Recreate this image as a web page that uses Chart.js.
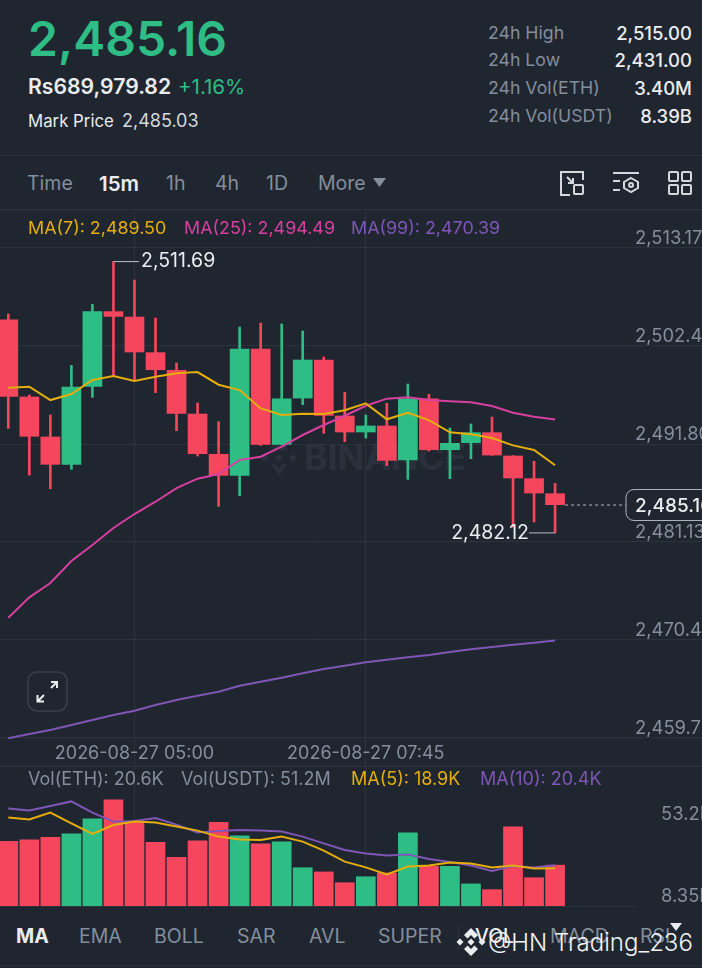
<!DOCTYPE html>
<html>
<head>
<meta charset="utf-8">
<script src="https://cdn.jsdelivr.net/npm/chart.js@4"></script>
<style>
html,body{margin:0;padding:0;background:#1f2630;}
#page{position:relative;width:702px;height:968px;overflow:hidden;background:#1f2630;font-family:Inter,sans-serif;}
.t{position:absolute;white-space:nowrap;transform:translateY(-50%);line-height:1;}
.g{color:#848e9c;}
.hl{position:absolute;left:0;width:702px;height:1px;background:#2c333f;}
canvas{position:absolute;left:0;display:block;}
svg{position:absolute;}
</style>
</head>
<body>
<div id="page">
  <div class="t" style="left:28px;top:39px;font-size:48px;font-weight:600;color:#2ebd85;">2,485.16</div>
  <div class="t" style="left:28px;top:87px;font-size:21.2px;font-weight:600;color:#eaecef;">Rs689,979.82</div>
  <div class="t" style="left:178px;top:87px;font-size:20.5px;color:#2ebd85;">+1.16%</div>
  <div class="t" style="left:28px;top:121px;font-size:16.8px;color:#eaecef;">Mark Price</div>
  <div class="t" style="left:122px;top:121px;font-size:18px;color:#d5d9de;">2,485.03</div>

  <div class="t g" style="left:488px;top:33px;font-size:17.7px;">24h High</div>
  <div class="t g" style="left:488px;top:60px;font-size:17.7px;">24h Low</div>
  <div class="t g" style="left:488px;top:88px;font-size:17.7px;">24h Vol(ETH)</div>
  <div class="t g" style="left:488px;top:116px;font-size:17.7px;">24h Vol(USDT)</div>
  <div class="t" style="right:10px;top:33px;font-size:18.5px;font-weight:500;color:#eaecef;">2,515.00</div>
  <div class="t" style="right:10px;top:60px;font-size:18.5px;font-weight:500;color:#eaecef;">2,431.00</div>
  <div class="t" style="right:10px;top:88px;font-size:18.5px;font-weight:500;color:#eaecef;">3.40M</div>
  <div class="t" style="right:10px;top:116px;font-size:18.5px;font-weight:500;color:#eaecef;">8.39B</div>

  <div class="hl" style="top:155px;"></div>
  <div class="t g" style="left:27px;top:184px;font-size:19.5px;">Time</div>
  <div class="t" style="left:99px;top:184px;font-size:20.5px;font-weight:600;color:#eaecef;">15m</div>
  <div class="t g" style="left:166px;top:184px;font-size:19.5px;">1h</div>
  <div class="t g" style="left:215px;top:184px;font-size:19.5px;">4h</div>
  <div class="t g" style="left:266px;top:184px;font-size:19.5px;">1D</div>
  <div class="t g" style="left:318px;top:184px;font-size:19.5px;">More</div>
  <svg style="left:372px;top:177px" width="15" height="11"><path d="M1 1H14L7.5 10Z" fill="#848e9c"/></svg>
  <svg style="left:558px;top:170px" width="30" height="27" fill="none" stroke="#d5d9de" stroke-width="2">
    <path d="M3 20V2H25V10M3 20V25H12M9 7L15 13M15 8V13H10"/><rect x="16" y="15" width="9" height="9" rx="1"/>
  </svg>
  <svg style="left:612px;top:170px" width="30" height="27" fill="none" stroke="#d5d9de" stroke-width="2">
    <path d="M1 3H27M1 11H8M1 20H8M19 8L26 12V18L19 22L12 18V12Z"/><circle cx="19" cy="15" r="2"/>
  </svg>
  <svg style="left:667px;top:170px" width="27" height="27" fill="none" stroke="#d5d9de" stroke-width="2">
    <rect x="2" y="2" width="9" height="9" rx="1"/><rect x="15" y="2" width="9" height="9" rx="1"/>
    <rect x="2" y="15" width="9" height="9" rx="1"/><rect x="15" y="15" width="9" height="9" rx="1"/>
  </svg>
  <div class="hl" style="top:209px;"></div>

  <svg style="left:260px;top:438px" width="40" height="40" fill="#2a313c">
    <path d="M19 2L27 10L23 14L19 10L15 14L11 10ZM5 16L9 20L5 24L1 20ZM33 16L37 20L33 24L29 20ZM19 16L23 20L19 24L15 20ZM11 26L15 26L19 30L23 26L27 26L19 38Z"/>
  </svg>
  <div class="t" style="left:304px;top:458px;font-size:35.5px;font-weight:700;color:#2a313c;">BINANCE</div>

  <canvas id="priceChart" width="720" height="556" style="top:210px;"></canvas>
  <canvas id="volChart" width="720" height="141" style="top:766px;"></canvas>

  <div class="t" style="left:28px;top:228px;font-size:17.9px;color:#e5ae0c;">MA(7): 2,489.50</div>
  <div class="t" style="left:184px;top:228px;font-size:17.9px;color:#d6409f;">MA(25): 2,494.49</div>
  <div class="t" style="left:351px;top:228px;font-size:17.9px;color:#7f56b5;">MA(99): 2,470.39</div>

  <svg style="left:27px;top:671px" width="41" height="41" fill="none">
    <rect x="1" y="1" width="39" height="39" rx="9" stroke="#383f4b" stroke-width="1.5"/>
    <path d="M24 17L29 12M24 11H30V17M17 24L11 30M10.5 24V30.5H17" stroke="#eaecef" stroke-width="2"/>
  </svg>

  <div class="hl" style="top:766px;"></div>
  <div class="t g" style="left:28px;top:779px;font-size:18px;">Vol(ETH): 20.6K</div>
  <div class="t g" style="left:181px;top:779px;font-size:18px;">Vol(USDT): 51.2M</div>
  <div class="t" style="left:351px;top:779px;font-size:18px;color:#e5ae0c;">MA(5): 18.9K</div>
  <div class="t" style="left:480px;top:779px;font-size:18px;color:#7f56b5;">MA(10): 20.4K</div>

  <div class="t" style="left:16px;top:937px;font-size:19.5px;font-weight:700;color:#eaecef;">MA</div>
  <div class="t g" style="left:79px;top:937px;font-size:19.5px;">EMA</div>
  <div class="t g" style="left:154px;top:937px;font-size:19.5px;">BOLL</div>
  <div class="t g" style="left:237px;top:937px;font-size:19.5px;">SAR</div>
  <div class="t g" style="left:309px;top:937px;font-size:19.5px;">AVL</div>
  <div class="t g" style="left:378px;top:937px;font-size:19.5px;">SUPER</div>
  <div class="hl" style="left:458px;top:925px;width:1px;height:24px;"></div>
  <div class="t" style="left:475px;top:937px;font-size:19.5px;font-weight:500;color:#eaecef;">VOL</div>
  <div class="t g" style="left:550px;top:937px;font-size:19.5px;">MACD</div>
  <div class="t g" style="left:640px;top:937px;font-size:19.5px;">RSI</div>
  <svg style="left:456px;top:927px" width="30" height="30" fill="#eaecef">
    <path d="M15 1L22 8L18.5 11.5L15 8L11.5 11.5L8 8ZM4 11.5L7.5 15L4 18.5L0.5 15ZM26 11.5L29.5 15L26 18.5L22.5 15ZM15 11.5L18.5 15L15 18.5L11.5 15ZM8 22L11.5 18.5L15 22L18.5 18.5L22 22L15 29Z"/>
  </svg>
  <div class="t" style="left:488px;top:943px;font-size:24px;font-weight:300;color:#f2f3f5;">@HN Trading_236</div>
  <svg style="left:668px;top:922px" width="18" height="12"><path d="M2 1H14L8 9Z" fill="#eaecef"/></svg>
  <div class="hl" style="top:965px;"></div>
</div>

<script>
const timeTickIndexes = [6, 17];
const timeTickLabels = ["2026-08-27 05:00", "2026-08-27 07:45"];
const priceTicks = [2513.17, 2502.49, 2491.80, 2481.13, 2470.45, 2459.77];
const volumeTicks = [53.2, 8.35];
const volumeTickLabels = ["53.2K", "8.35K"];

const opens  = [2505.39,2496.97,2492.61,2489.56,2498.06,2506.27,2505.68,2501.80,2499.87,2495.11,2490.72,2488.36,2502.20,2491.74,2496.78,2501.00,2494.90,2493.08,2493.81,2490.03,2496.78,2491.15,2491.92,2493.08,2490.54,2488.07,2486.43];
const closes = [2496.97,2492.61,2489.56,2498.06,2506.27,2505.68,2501.80,2499.87,2495.11,2490.72,2488.36,2502.20,2491.74,2496.78,2501.00,2494.90,2493.08,2493.81,2489.99,2496.78,2491.15,2491.92,2493.08,2490.57,2488.07,2486.43,2485.16];
const highs  = [2505.98,2497.15,2494.97,2500.38,2507.03,2511.69,2509.68,2505.54,2500.64,2496.28,2494.24,2504.56,2504.99,2504.89,2504.12,2501.29,2497.44,2494.97,2496.24,2498.35,2497.22,2493.55,2493.99,2494.75,2490.54,2489.92,2487.52];
const lows   = [2493.52,2488.43,2486.94,2489.05,2496.89,2499.22,2498.78,2497.40,2493.26,2490.50,2485.01,2486.18,2491.66,2491.74,2496.09,2492.97,2492.06,2492.46,2489.45,2487.96,2491.05,2488.03,2490.21,2490.57,2482.76,2483.31,2482.12];

const ma7  = [2497.95,2498.06,2496.60,2497.26,2498.78,2499.22,2498.67,2499.15,2499.51,2499.65,2498.27,2497.69,2495.69,2494.97,2495.11,2495.08,2495.48,2496.24,2494.50,2495.22,2494.42,2493.08,2492.86,2492.46,2491.66,2491.15,2489.50];
const ma25 = [2472.88,2475.10,2476.66,2479.06,2480.80,2482.66,2484.18,2485.52,2487.01,2488.03,2488.54,2490.07,2490.43,2491.52,2492.79,2493.88,2494.89,2495.98,2496.75,2496.90,2496.61,2496.46,2496.35,2495.95,2495.22,2494.78,2494.49];
const ma99 = [2459.74,2460.21,2460.64,2461.19,2461.73,2462.28,2462.75,2463.37,2463.91,2464.38,2464.82,2465.47,2465.91,2466.34,2466.82,2467.29,2467.65,2468.02,2468.30,2468.56,2468.81,2469.14,2469.44,2469.69,2469.94,2470.16,2470.39];

const volumes = [32.5,33.3,34.5,36.2,43.8,53.2,42.3,32.0,24.5,32.7,42.0,35.3,31.3,32.2,19.3,17.2,11.8,14.8,16.7,36.8,20.0,20.0,11.2,8.35,39.7,14.3,20.6];
const volMa5  = [44.3,43.3,46.7,41.3,36.0,40.5,42.2,41.7,39.7,37.7,34.7,33.3,33.0,34.7,32.2,27.7,22.2,19.3,15.8,19.7,20.2,21.8,21.3,19.3,20.2,18.8,18.9];
const volMa10 = [48.7,47.7,50.0,52.3,46.7,42.2,42.5,44.0,40.7,36.8,37.5,38.0,37.7,37.2,34.7,31.3,28.0,26.3,25.3,25.8,23.5,22.0,20.2,17.5,20.0,19.3,20.4];

const UP = '#2ebd85', DOWN = '#f6465d', GRID = '#2c333f';
const FONT = 'Inter, sans-serif';
const BG = '#1f2630';
const barColors = opens.map((o, i) => closes[i] >= o ? UP : DOWN);
const pts = arr => arr.map((y, x) => ({x, y}));
const fmt = v => v.toLocaleString('en-US', {minimumFractionDigits: 2, maximumFractionDigits: 2});

// x window shared by both panes: candle 0 sits 8.3px from the left, candles 21.03px apart
const xMin = -8.3 / 21.03, xMax = (635 - 8.3) / 21.03;
const xBase = {
  type: 'linear', min: xMin, max: xMax, offset: false,
  afterBuildTicks: s => { s.ticks = timeTickIndexes.map(value => ({value})); },
  border: {display: false},
};

const markers = {
  id: 'markers',
  afterDatasetsDraw(chart) {
    const {ctx, scales: {x, y}} = chart;
    ctx.save();
    ctx.font = '19.5px ' + FONT;
    ctx.textBaseline = 'middle';
    // high
    const hi = Math.max(...highs), hiI = highs.indexOf(hi);
    ctx.strokeStyle = '#b7bdc6'; ctx.lineWidth = 1;
    ctx.beginPath(); ctx.moveTo(x.getPixelForValue(hiI), y.getPixelForValue(hi)); ctx.lineTo(139, y.getPixelForValue(hi)); ctx.stroke();
    ctx.fillStyle = '#eaecef'; ctx.textAlign = 'left';
    ctx.fillText(fmt(hi), 141, y.getPixelForValue(hi));
    // low
    const lo = Math.min(...lows), loI = lows.indexOf(lo);
    ctx.beginPath(); ctx.moveTo(x.getPixelForValue(loI), y.getPixelForValue(lo)); ctx.lineTo(529, y.getPixelForValue(lo)); ctx.stroke();
    ctx.textAlign = 'right';
    ctx.fillText(fmt(lo), 529, y.getPixelForValue(lo));
    // last price
    const last = closes[closes.length - 1], ly = y.getPixelForValue(last);
    ctx.setLineDash([3, 3]);
    ctx.strokeStyle = '#b7bdc6';
    ctx.beginPath(); ctx.moveTo(x.getPixelForValue(closes.length - 1) + 10, ly); ctx.lineTo(626, ly); ctx.stroke();
    ctx.setLineDash([]);
    ctx.beginPath(); ctx.roundRect(626, ly - 15.5, 110, 31, 8);
    ctx.fillStyle = BG; ctx.fill();
    ctx.strokeStyle = '#aeb4bc'; ctx.stroke();
    ctx.fillStyle = '#eaecef'; ctx.textAlign = 'left'; ctx.font = '500 19px ' + FONT;
    ctx.fillText(fmt(last), 635, ly + 1);
    ctx.restore();
  }
};

new Chart(document.getElementById('priceChart'), {
  type: 'bar',
  data: {
    datasets: [
      {data: opens.map((o, x) => ({x, y: [lows[x], highs[x]]})), backgroundColor: barColors,
       grouped: false, categoryPercentage: 1, barPercentage: 1, maxBarThickness: 2, order: 3, borderSkipped: false},
      {data: opens.map((o, x) => ({x, y: [o, closes[x]]})), backgroundColor: barColors,
       grouped: false, categoryPercentage: 1, barPercentage: 0.937, maxBarThickness: 19.7, order: 2, borderSkipped: false},
      {type: 'line', data: pts(ma7),  borderColor: '#e5ae0c', borderWidth: 2, pointRadius: 0, tension: 0, order: 1},
      {type: 'line', data: pts(ma25), borderColor: '#d6409f', borderWidth: 2, pointRadius: 0, tension: 0, order: 1},
      {type: 'line', data: pts(ma99), borderColor: '#7f56b5', borderWidth: 2, pointRadius: 0, tension: 0, order: 1},
    ]
  },
  options: {
    responsive: false, animation: false, devicePixelRatio: 1,
    layout: {padding: 0},
    plugins: {legend: {display: false}, tooltip: {enabled: false}},
    scales: {
      x: Object.assign({}, xBase, {
        afterFit: s => { s.height = 26; },
        grid: {color: GRID, tickLength: 26, drawTicks: true, offset: false},
        ticks: {color: '#848e9c', font: {family: FONT, size: 18}, padding: -23, maxRotation: 0, autoSkip: false,
          callback: v => timeTickLabels[timeTickIndexes.indexOf(v)]},
      }),
      y: {
        type: 'linear', position: 'right', min: 2459.552, max: 2517.311,
        afterFit: s => { s.width = 85; },
        afterBuildTicks: s => { s.ticks = priceTicks.map(value => ({value})); },
        border: {display: false},
        grid: {color: GRID, tickLength: 85, drawTicks: true},
        ticks: {color: '#848e9c', font: {family: FONT, size: 18.4}, padding: -85, labelOffset: -9.5, autoSkip: false, callback: fmt},
      }
    }
  },
  plugins: [markers]
});

new Chart(document.getElementById('volChart'), {
  type: 'bar',
  data: {
    datasets: [
      {data: pts(volumes), backgroundColor: barColors, yAxisID: 'yv',
       grouped: false, categoryPercentage: 1, barPercentage: 0.937, maxBarThickness: 19.7, order: 2},
      {type: 'line', data: pts(volMa5),  yAxisID: 'yv', borderColor: '#e5ae0c', borderWidth: 2, pointRadius: 0, tension: 0, order: 1},
      {type: 'line', data: pts(volMa10), yAxisID: 'yv', borderColor: '#7f56b5', borderWidth: 2, pointRadius: 0, tension: 0, order: 1},
    ]
  },
  options: {
    responsive: false, animation: false, devicePixelRatio: 1,
    layout: {padding: 0},
    plugins: {legend: {display: false}, tooltip: {enabled: false}},
    scales: {
      x: Object.assign({}, xBase, {
        afterFit: s => { s.height = 1; },
        border: {display: true, color: GRID},
        grid: {color: GRID, drawTicks: false, offset: false},
        ticks: {display: false},
      }),
      yv: {type: 'linear', display: false, min: 0, max: 70},
      // label axis: the volume labels sit a little under the levels they name
      yl: {
        type: 'linear', position: 'right', min: 3.1, max: 79.7,
        afterFit: s => { s.width = 85; },
        afterBuildTicks: s => { s.ticks = volumeTicks.map(value => ({value})); },
        border: {display: false},
        grid: {display: false, drawTicks: true, tickLength: 38},
        ticks: {color: '#848e9c', font: {family: FONT, size: 18.4}, padding: -12, autoSkip: false,
          callback: v => volumeTickLabels[volumeTicks.indexOf(v)]},
      }
    }
  }
});
</script>
</body>
</html>
